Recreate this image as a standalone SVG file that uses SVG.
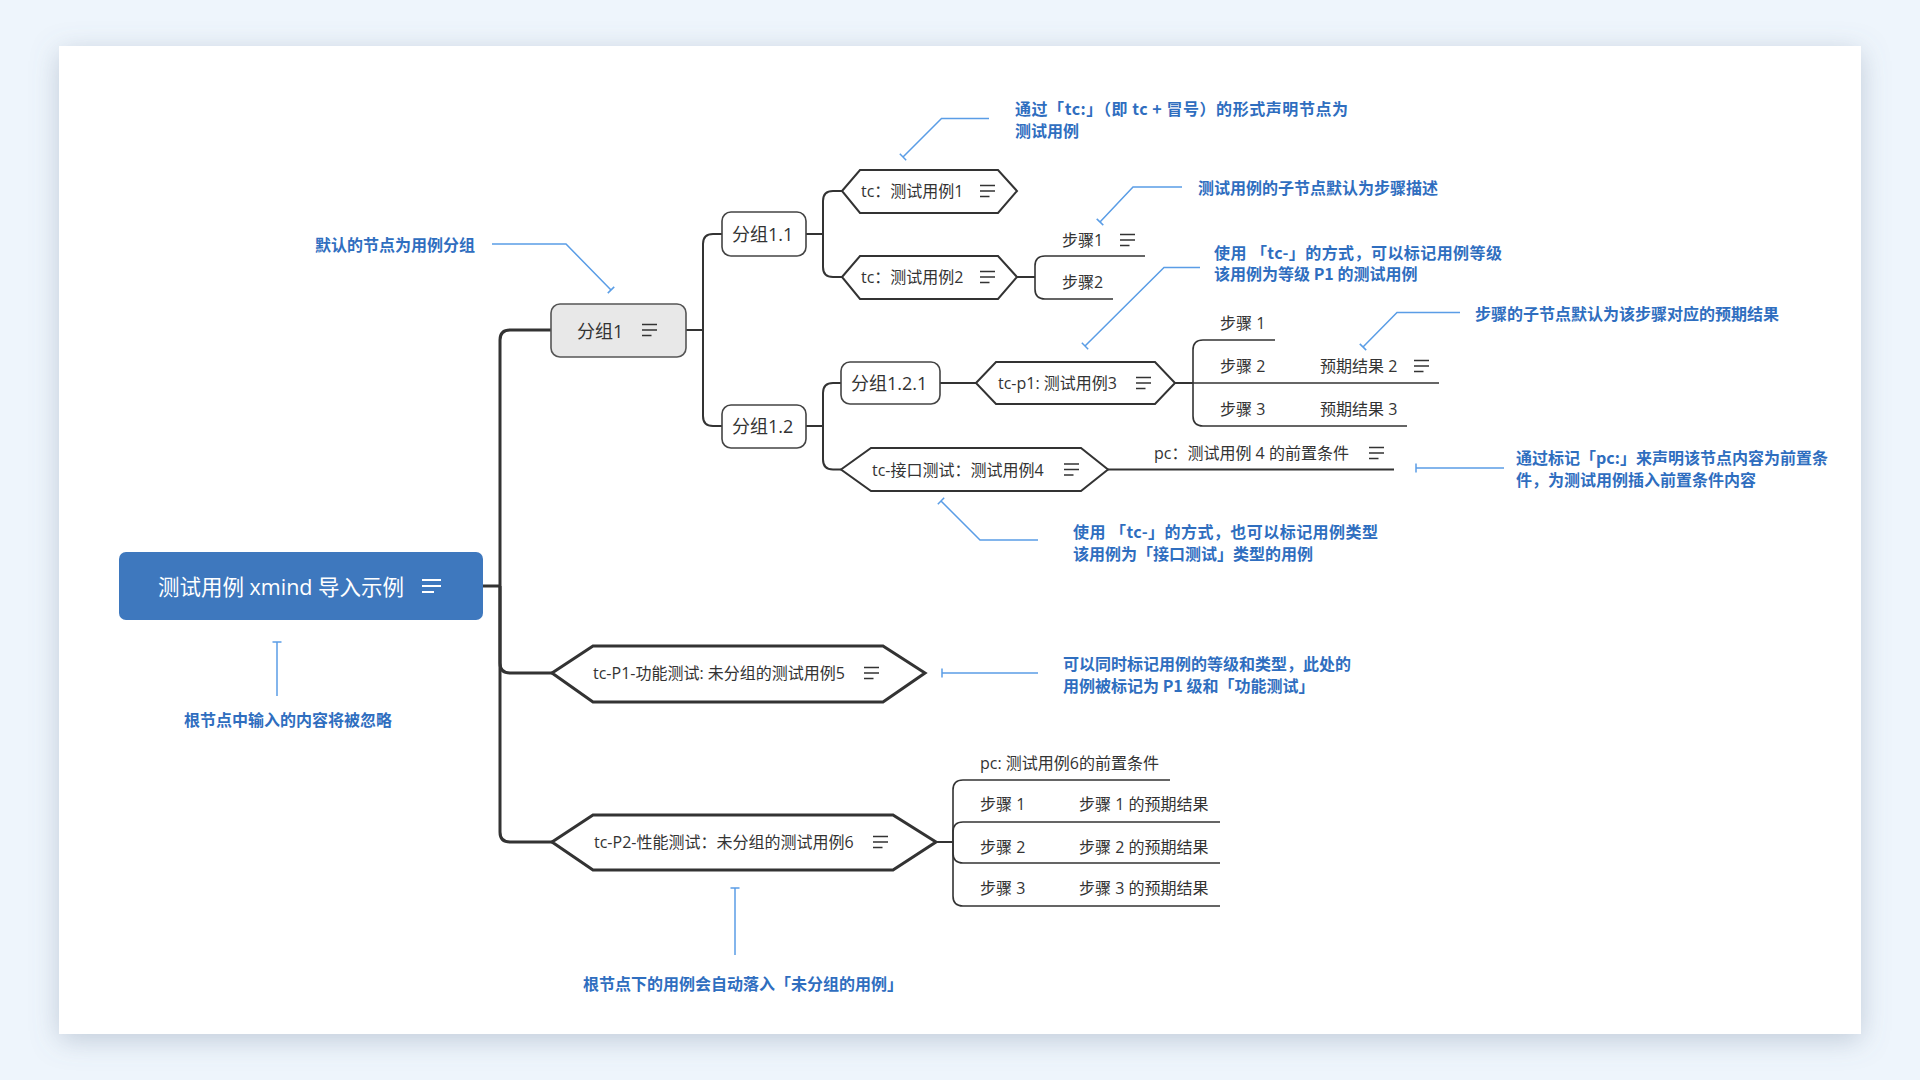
<svg xmlns="http://www.w3.org/2000/svg" width="1920" height="1080" viewBox="0 0 1920 1080">
<defs>
  <filter id="shadow" x="-5%" y="-5%" width="110%" height="112%">
    <feDropShadow dx="0" dy="6" stdDeviation="14" flood-color="#6b7c95" flood-opacity="0.35"/>
  </filter>
  <marker id="tick" viewBox="-2 -6 4 12" refX="0" refY="0" markerWidth="4" markerHeight="12" markerUnits="userSpaceOnUse" orient="auto">
    <path d="M0,-4.5 V4.5" stroke="#5a9de6" stroke-width="1.5"/>
  </marker>
  <g id="icon">
    <path d="M0,-5.5 H15 M0,0 H15 M0,5.5 H9.5" stroke="#333" stroke-width="1.7" fill="none"/>
  </g>
</defs>
<style>
  .node-text { font-family: "Open Sans", "Noto Sans CJK SC", sans-serif; fill: #333; dominant-baseline: central; }
  .t16 { font-size: 16px; }
  .t18 { font-size: 18px; }
  .topic { fill: #fff; stroke: #444; stroke-width: 1.6; }
  .hex { fill: #fff; stroke: #333; stroke-width: 2; }
  .hexbig { fill: #fff; stroke: #333; stroke-width: 3; }
  .conn3 { fill: none; stroke: #333; stroke-width: 3; }
  .conn2 { fill: none; stroke: #333; stroke-width: 2; }
  .conn1 { fill: none; stroke: #333; stroke-width: 1.6; }
  .note-line { fill: none; stroke: #5a9de6; stroke-width: 1.5; marker-end: url(#tick); }
  .note-text { font-family: "Noto Sans CJK SC", "Open Sans", sans-serif; font-size: 16px; font-weight: 700; fill: #2f6ebf; dominant-baseline: central; }
</style>

<rect x="0" y="0" width="1920" height="1080" fill="#eef5fc"/>
<rect x="59" y="46" width="1802" height="988" fill="#ffffff" filter="url(#shadow)"/>

<!-- connectors -->
<g id="connectors">
  <path class="conn3" d="M483,586 H500"/>
  <path class="conn3" d="M500,586 V340 Q500,330 510,330 H551"/>
  <path class="conn3" d="M500,586 V663 Q500,673 510,673 H552"/>
  <path class="conn3" d="M500,586 V832 Q500,842 510,842 H552"/>

  <path class="conn2" d="M686,330 H703"/>
  <path class="conn2" d="M703,330 V244 Q703,234 713,234 H722"/>
  <path class="conn2" d="M703,330 V416 Q703,426 713,426 H722"/>

  <path class="conn2" d="M806,234 H823"/>
  <path class="conn2" d="M823,234 V201 Q823,191 833,191 H842"/>
  <path class="conn2" d="M823,234 V267 Q823,277 833,277 H842"/>

  <path class="conn2" d="M1017,277 H1035"/>
  <path class="conn1" d="M1035,277 V266 Q1035,256 1045,256 H1145"/>
  <path class="conn1" d="M1035,277 V289 Q1035,299 1045,299 H1113"/>

  <path class="conn2" d="M806,426 H823"/>
  <path class="conn2" d="M823,426 V393 Q823,383 833,383 H841"/>
  <path class="conn2" d="M823,426 V459.5 Q823,469.5 833,469.5 H841"/>

  <path class="conn2" d="M940,383 H976"/>

  <path class="conn2" d="M1175,383 H1193"/>
  <path class="conn1" d="M1193,383 V350 Q1193,340 1203,340 H1275"/>
  <path class="conn1" d="M1193,383 H1439"/>
  <path class="conn1" d="M1193,383 V416 Q1193,426 1203,426 H1407"/>

  <path class="conn2" d="M1108,469.5 H1394"/>

  <path class="conn2" d="M936,842 H953"/>
  <path class="conn1" d="M953,842 V790 Q953,780 963,780 H1170"/>
  <path class="conn1" d="M953,842 V832 Q953,822 963,822 H1220"/>
  <path class="conn1" d="M953,842 V853 Q953,863 963,863 H1220"/>
  <path class="conn1" d="M953,842 V896 Q953,906 963,906 H1220"/>
</g>

<!-- nodes -->
<g id="root">
  <rect x="119" y="552" width="364" height="68" rx="7" fill="#3e78be"/>
  <text x="158" y="586" class="node-text" style="font-size:21.5px;fill:#ffffff">测试用例 xmind 导入示例</text>
  <path d="M422,580 H441 M422,586 H441 M422,592 H434" stroke="#fff" stroke-width="2" fill="none"/>
</g>

<g id="group1">
  <rect x="551" y="304" width="135" height="53" rx="9" fill="#e8e8e8" stroke="#555" stroke-width="1.6"/>
  <text x="577" y="330.5" class="node-text t18">分组1</text>
  <use href="#icon" x="642" y="330"/>
</g>

<g id="group1-1">
  <rect class="topic" x="722" y="212" width="84" height="44" rx="9"/>
  <text x="732" y="234" class="node-text t18">分组1.1</text>
</g>

<g id="group1-2">
  <rect class="topic" x="722" y="405" width="84" height="43" rx="9"/>
  <text x="732" y="426" class="node-text t18">分组1.2</text>
</g>

<g id="tc1">
  <polygon class="hex" points="842,191 860,170 998,170 1017,191 998,213 860,213"/>
  <text x="861" y="191" class="node-text t16">tc：测试用例1</text>
  <use href="#icon" x="980" y="191"/>
</g>

<g id="tc2">
  <polygon class="hex" points="842,277 860,256 998,256 1017,277 998,299 860,299"/>
  <text x="861" y="277" class="node-text t16">tc：测试用例2</text>
  <use href="#icon" x="980" y="277"/>
</g>

<g id="tc2-step1">
  <text x="1062" y="240" class="node-text t16">步骤1</text>
  <use href="#icon" x="1120" y="240"/>
</g>
<g id="tc2-step2">
  <text x="1062" y="282" class="node-text t16">步骤2</text>
</g>

<g id="group1-2-1">
  <rect class="topic" x="841" y="362" width="99" height="42" rx="9"/>
  <text x="851" y="383" class="node-text t18">分组1.2.1</text>
</g>

<g id="tc3">
  <polygon class="hex" points="976,383 996,362 1155,362 1175,383 1155,404 996,404"/>
  <text x="998" y="383" class="node-text t16">tc-p1: 测试用例3</text>
  <use href="#icon" x="1136" y="383"/>
</g>

<g id="tc3-step1"><text x="1220" y="323" class="node-text t16">步骤 1</text></g>
<g id="tc3-step2"><text x="1220" y="366" class="node-text t16">步骤 2</text></g>
<g id="tc3-step3"><text x="1220" y="409" class="node-text t16">步骤 3</text></g>
<g id="tc3-result2">
  <text x="1320" y="366" class="node-text t16">预期结果 2</text>
  <use href="#icon" x="1414" y="366"/>
</g>
<g id="tc3-result3"><text x="1320" y="409" class="node-text t16">预期结果 3</text></g>

<g id="tc4">
  <polygon class="hex" points="841,469.5 871,448 1081,448 1108,469.5 1081,491 871,491"/>
  <text x="872" y="469.5" class="node-text t16">tc-接口测试：测试用例4</text>
  <use href="#icon" x="1064" y="469.5"/>
</g>
<g id="tc4-pc">
  <text x="1154" y="453" class="node-text t16">pc：测试用例 4 的前置条件</text>
  <use href="#icon" x="1369" y="453"/>
</g>

<g id="tc5">
  <polygon class="hexbig" points="552,673 593,646 883,646 925,673 883,702 593,702"/>
  <text x="593" y="673" class="node-text t16">tc-P1-功能测试: 未分组的测试用例5</text>
  <use href="#icon" x="864" y="673"/>
</g>

<g id="tc6">
  <polygon class="hexbig" points="552,842 593,815 893,815 936,842 893,870 593,870"/>
  <text x="594" y="842" class="node-text t16">tc-P2-性能测试：未分组的测试用例6</text>
  <use href="#icon" x="873" y="842"/>
</g>
<g id="tc6-pc"><text x="980" y="763" class="node-text t16">pc: 测试用例6的前置条件</text></g>
<g id="tc6-step1"><text x="980" y="804" class="node-text t16">步骤 1</text></g>
<g id="tc6-result1"><text x="1079" y="804" class="node-text t16">步骤 1 的预期结果</text></g>
<g id="tc6-step2"><text x="980" y="847" class="node-text t16">步骤 2</text></g>
<g id="tc6-result2"><text x="1079" y="847" class="node-text t16">步骤 2 的预期结果</text></g>
<g id="tc6-step3"><text x="980" y="888" class="node-text t16">步骤 3</text></g>
<g id="tc6-result3"><text x="1079" y="888" class="node-text t16">步骤 3 的预期结果</text></g>

<!-- callouts -->
<g id="notes">
  <path class="note-line" d="M989,118.5 H941.5 L903,157"/>
  <text x="1015" y="108" class="note-text" textLength="333" lengthAdjust="spacing">通过「tc:」（即 tc + 冒号）的形式声明节点为</text>
  <text x="1015" y="130" class="note-text">测试用例</text>

  <path class="note-line" d="M1182,187 H1133 L1100,222"/>
  <text x="1198" y="187" class="note-text">测试用例的子节点默认为步骤描述</text>

  <path class="note-line" d="M1200,267.5 H1164 L1085,346"/>
  <text x="1214" y="252" class="note-text" textLength="288" lengthAdjust="spacing">使用 「tc-」的方式，可以标记用例等级</text>
  <text x="1214" y="273" class="note-text">该用例为等级 P1 的测试用例</text>

  <path class="note-line" d="M1460,312.5 H1397 L1363,347"/>
  <text x="1475" y="313" class="note-text">步骤的子节点默认为该步骤对应的预期结果</text>

  <path class="note-line" d="M1504,468 H1416"/>
  <text x="1516" y="457" class="note-text">通过标记「pc:」来声明该节点内容为前置条</text>
  <text x="1516" y="479" class="note-text">件，为测试用例插入前置条件内容</text>

  <path class="note-line" d="M1038,540 H980 L941,501"/>
  <text x="1073" y="531" class="note-text" textLength="305" lengthAdjust="spacing">使用 「tc-」的方式，也可以标记用例类型</text>
  <text x="1073" y="553" class="note-text">该用例为「接口测试」类型的用例</text>

  <path class="note-line" d="M492,244 H566 L611,290"/>
  <text x="315" y="244" class="note-text">默认的节点为用例分组</text>

  <path class="note-line" d="M277,696 V642"/>
  <text x="184" y="719" class="note-text">根节点中输入的内容将被忽略</text>

  <path class="note-line" d="M1038,673 H942"/>
  <text x="1063" y="663" class="note-text">可以同时标记用例的等级和类型，此处的</text>
  <text x="1063" y="685" class="note-text">用例被标记为 P1 级和「功能测试」</text>

  <path class="note-line" d="M735,955 V888"/>
  <text x="583" y="983" class="note-text">根节点下的用例会自动落入「未分组的用例」</text>
</g>
</svg>
